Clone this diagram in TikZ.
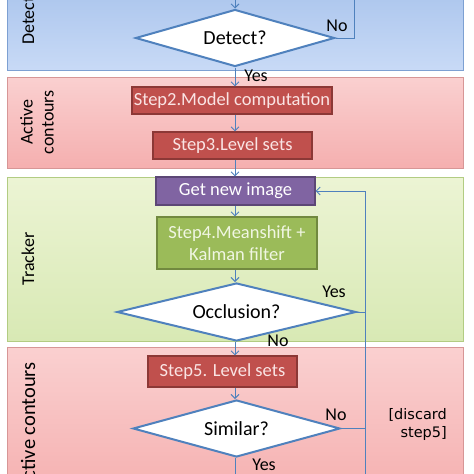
\documentclass[tikz,border=0pt]{standalone}
\usepackage{fontspec}
\setmainfont{Carlito}
\newfontfamily\dejavu{DejaVu Sans}
\usetikzlibrary{shapes.geometric,arrows.meta,shadows}
\definecolor{lineblue}{RGB}{79,129,189}
\definecolor{boxred}{RGB}{192,80,77}
\definecolor{boxredb}{RGB}{140,56,54}
\definecolor{boxpurple}{RGB}{128,100,162}
\definecolor{boxpurpleb}{RGB}{92,71,118}
\definecolor{boxgreen}{RGB}{155,187,89}
\definecolor{boxgreenb}{RGB}{113,137,63}
\definecolor{redtext}{RGB}{250,228,228}
\definecolor{greentext}{RGB}{240,246,226}
\definecolor{bluetop}{RGB}{168,195,236}
\definecolor{bluebot}{RGB}{200,218,246}
\definecolor{bluebord}{RGB}{125,160,210}
\definecolor{pinktop}{RGB}{250,208,208}
\definecolor{pinkbot}{RGB}{245,175,175}
\definecolor{pinkbord}{RGB}{215,150,150}
\definecolor{greentop}{RGB}{236,244,212}
\definecolor{greenbot}{RGB}{216,233,180}
\definecolor{greenbord}{RGB}{178,204,130}
\tikzset{
  panel/.style={draw=#1bord, line width=0.8pt, top color=#1top, bottom color=#1bot,
    drop shadow={opacity=0.25, shadow xshift=1.2pt, shadow yshift=-1.2pt}},
  stepbox/.style={rectangle, draw=#1b, fill=#1, line width=1.2pt, inner sep=0pt,
    font=\fontsize{18.5}{22}\selectfont},
  decision/.style={diamond, draw=lineblue, fill=white, line width=2pt, inner sep=0pt,
    aspect=4, font=\fontsize{20}{24}\selectfont},
  flow/.style={draw=lineblue, line width=0.9pt},
  flowarrow/.style={flow, -{Straight Barb[length=4pt,width=8pt]}},
  lbl/.style={font=\fontsize{18}{22}\selectfont, inner sep=0pt},
  sidelbl/.style={font=\fontsize{18}{21}\selectfont, inner sep=0pt, rotate=90},
}
\begin{document}
\begin{tikzpicture}[x=1pt,y=-1pt]
\useasboundingbox (0,0) rectangle (474,474);
\clip (0,0) rectangle (474,474);
% panels
\path[panel=blue] (7,-20) rectangle (463,70);
\path[panel=pink] (7,77) rectangle (463,168);
\path[panel=green] (7,177) rectangle (463,341);
\path[panel=pink] (7,347) rectangle (463,500);
% side labels
\node[sidelbl, anchor=west] (lbldet) at (28,45) {Detection};
\node[sidelbl, anchor=center, align=center] (lblac1) at (37,122) {Active\\contours};
\node[sidelbl, anchor=center] (lbltr) at (28,259) {Tracker};
\node[sidelbl, anchor=east, font=\fontsize{20.5}{24}\selectfont] (lblac2) at (28,362) {Active contours};
% nodes
\coordinate (topin) at (235,-5);
\coordinate (toploop) at (354,-5);
\node[decision, minimum width=199pt, minimum height=57pt] (detect) at (235,38) {Detect?};
\node[stepbox=boxred, minimum width=200pt, minimum height=27pt, text=redtext] (step2) at (232,100.5) {Step2.Model computation};
\node[stepbox=boxred, minimum width=159pt, minimum height=27pt, text=redtext] (step3) at (232.5,145.5) {Step3.Level sets};
\node[stepbox=boxpurple, minimum width=159pt, minimum height=28pt, text=white] (getimg) at (235.5,191) {Get new image};
\node[stepbox=boxgreen, minimum width=160pt, minimum height=52pt, text=greentext, align=center] (step4) at (237,243) {Step4.Meanshift +\\Kalman filter};
\node[decision, minimum width=239pt, minimum height=58pt] (occl) at (236.5,312) {Occlusion?};
\node[stepbox=boxred, minimum width=149pt, minimum height=31pt, text=redtext] (step5) at (222.5,371.5) {Step5. Level sets};
\node[decision, minimum width=207pt, minimum height=57pt] (similar) at (236.5,428.5) {Similar?};
\coordinate (botout) at (235,480);
\coordinate (rightbot) at (365,480);
% connectors
\draw[flowarrow] (topin) -- (detect.north);
\draw[flow] (detect.east) -- (toploop |- detect.east) -- (toploop);
\draw[flowarrow] (detect.south) -- (detect.south |- step2.north);
\draw[flowarrow] (detect.south |- step2.south) -- (detect.south |- step3.north);
\draw[flowarrow] (detect.south |- step3.south) -- (detect.south |- getimg.north);
\draw[flowarrow] (detect.south |- getimg.south) -- (detect.south |- step4.north);
\draw[flowarrow] (detect.south |- step4.south) -- (detect.south |- occl.north);
\draw[flowarrow] (detect.south |- occl.south) -- (detect.south |- step5.north);
\draw[flowarrow] (detect.south |- step5.south) -- (detect.south |- similar.north);
\draw[flow] (detect.south |- similar.south) -- (botout);
\draw[flow] (occl.east) -- (rightbot |- occl.east);
\draw[flow] (similar.east) -- (rightbot |- similar.east);
\draw[flowarrow] (rightbot) -- (rightbot |- getimg.east) -- (getimg.east);
% labels
\node[lbl] (no1) at (337,26) {No};
\node[lbl] (yes1) at (256,76) {Yes};
\node[lbl] (yes2) at (334,292) {Yes};
\node[lbl] (no2) at (278,341) {No};
\node[lbl] (no3) at (336,415) {No};
\node[lbl] (yes3) at (264,465) {Yes};
\node[font=\dejavu\fontsize{14.5}{18}\selectfont, align=right, anchor=east, inner sep=0pt] (discard) at (447,424) {[discard\\step5]};
\end{tikzpicture}
\end{document}
